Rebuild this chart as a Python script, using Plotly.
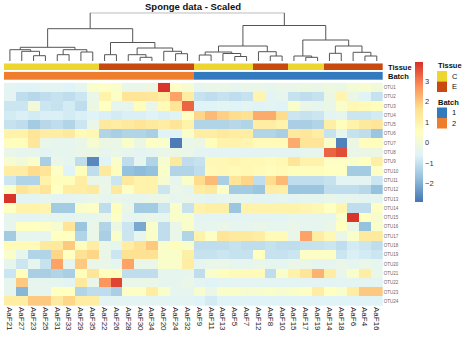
import plotly.graph_objects as go

W, H = 474, 338

samples = ["AaF21","AaF27","AaF23","AaF25","AaF31","AaF33","AaF29","AaF35",
           "AaF22","AaF26","AaF28","AaF30","AaF34","AaF20","AaF24","AaF32",
           "AaF9","AaF11","AaF13","AaF5","AaF7","AaF12","AaF8","AaF10",
           "AaF15","AaF17","AaF19","AaF14","AaF18","AaF6","AaF4","AaF16"]
otus = ["OTU%d" % i for i in range(1, 25)]

tissue = ["C"]*8 + ["E"]*8 + ["C"]*5 + ["E"]*3 + ["C"]*3 + ["E"]*5
batch = ["2"]*16 + ["1"]*16

values = [
 [-0.5,-0.6,-0.6,-0.5,-0.5,-0.6,-0.4,0.3,0.4,0.3,-0.3,-0.3,-0.2,3.9,0.4,0.2,-0.4,-0.3,-0.3,-0.4,-0.3,-0.3,-0.4,-0.3,-0.3,-0.2,-0.3,-0.1,-0.2,0.1,0.2,0.0],
 [-0.5,-1.1,-1.2,-1.1,-1.0,-1.1,-0.9,-0.3,1.0,0.4,1.5,1.5,1.4,1.2,2.5,1.2,-1.0,-1.1,-1.0,-1.1,-1.0,0.9,-0.5,-0.4,-1.0,-1.1,-1.0,-0.2,0.9,-0.3,-0.6,-1.0],
 [-0.9,-0.9,0.0,-0.9,-1.0,-0.8,-1.1,-0.2,0.5,-0.4,-0.4,0.6,-0.3,0.7,1.5,3.3,-0.6,-0.6,-0.5,-0.6,-0.5,-0.6,-0.5,-0.6,0.3,-0.3,-0.4,-0.3,0.3,0.8,0.7,0.6],
 [-0.8,-0.7,-0.8,-0.7,-0.7,-0.8,-0.7,-0.6,-0.7,-0.8,-0.7,-0.7,-0.6,-0.7,-0.6,0.5,1.8,2.2,1.9,1.7,1.6,2.4,2.4,1.7,-0.9,-1.0,-0.9,-0.5,-0.4,-0.9,-0.9,-0.8],
 [-1.0,-1.1,-1.5,-1.2,-1.1,-1.3,-0.9,-0.3,1.3,1.2,1.3,1.5,1.3,1.2,1.5,1.0,-1.3,-1.3,-1.3,-1.2,-1.3,1.2,1.2,1.0,-1.4,-1.4,-1.3,1.1,0.6,1.0,1.3,1.5],
 [1.0,1.0,1.5,1.2,1.2,1.3,0.7,0.8,-1.3,-1.4,-1.3,-1.3,-1.4,-0.6,-0.6,0.3,1.2,1.2,1.3,1.2,1.2,-1.3,-1.3,-1.4,1.3,1.4,1.2,-1.0,-0.4,-1.0,-1.1,-1.6],
 [0.6,0.6,1.4,-0.3,-0.4,-0.4,-0.3,0.2,-0.2,-0.3,0.3,-0.2,0.4,0.3,-2.8,-0.3,-0.2,0.6,1.0,1.0,0.9,0.7,0.7,0.7,2.4,1.5,1.5,0.3,-2.7,-0.2,0.6,0.6],
 [-0.3,-0.4,-0.4,-0.5,-0.4,-0.4,-0.3,-0.2,-0.4,-0.3,-0.4,-0.5,-0.4,-0.3,-0.2,-0.3,-0.5,-0.5,-0.5,-0.5,-0.5,-0.5,-0.5,-0.5,-0.5,-0.4,-0.4,3.3,3.6,-0.3,-0.2,-0.2],
 [0.2,0.0,0.3,-1.4,-0.3,-0.4,-1.1,-2.6,-0.6,0.3,-1.1,-0.4,-1.3,0.2,1.3,-1.1,-1.0,0.8,0.8,0.9,0.8,0.8,0.7,0.8,1.5,1.0,1.0,0.4,0.4,0.3,0.5,1.1],
 [1.2,1.2,1.7,1.5,0.4,-0.6,0.6,-1.1,1.3,0.6,-1.7,-1.8,-1.7,0.3,-1.3,-1.3,-1.1,0.7,0.8,0.7,0.8,0.7,0.6,0.7,0.6,0.6,0.6,0.5,0.5,-1.5,-1.5,0.4],
 [-0.9,-1.3,-1.3,1.0,0.6,0.6,1.2,-0.3,-0.3,-0.9,1.3,1.0,1.0,0.2,-0.4,0.3,1.7,2.2,-1.4,1.5,1.8,-1.1,1.7,2.2,-1.1,-1.1,-1.1,-1.0,-0.5,-0.5,-0.5,-0.9],
 [0.3,1.5,1.2,1.5,0.5,1.2,1.2,1.3,-0.3,1.3,0.4,1.0,1.0,-0.9,-0.3,-0.4,1.2,1.3,0.3,-1.5,-1.5,-1.6,1.2,1.1,-1.6,-1.6,-1.6,-1.1,-1.1,-1.1,-1.2,-1.7],
 [3.9,-0.5,-0.5,-0.4,-0.5,-0.5,-0.4,-0.3,-0.4,-0.3,-0.4,-0.4,-0.3,-0.3,-0.4,-0.3,-0.4,-0.5,-0.4,-0.4,-0.4,-0.5,-0.5,-0.4,-0.5,-0.4,-0.4,-0.3,-0.4,-0.4,-0.5,-0.4],
 [0.5,1.0,1.0,0.9,-1.5,-1.5,0.3,0.4,-1.1,0.6,-0.3,-1.5,-1.5,-0.9,0.3,-1.0,1.0,1.1,1.1,-1.6,1.0,1.0,1.0,1.0,1.0,0.9,0.8,0.5,0.9,-1.1,-1.1,0.4],
 [-0.4,-0.5,-0.5,-0.4,-0.4,-0.5,-0.4,-0.4,-0.3,0.4,-0.4,-0.4,-0.3,-0.4,0.3,0.3,-0.5,-0.5,-0.5,-0.5,-0.5,-0.5,-0.5,-0.5,-0.4,-0.4,-0.4,-0.4,0.3,3.9,0.5,0.2],
 [-0.4,0.5,0.5,0.4,0.2,1.5,-1.6,-0.3,-1.3,-0.2,-0.9,-2.1,0.3,-1.1,-0.3,0.3,-0.4,-0.4,-0.3,-0.4,-0.4,-0.3,-0.4,-0.4,-0.3,-0.4,-0.4,-0.3,0.5,-0.3,-1.7,0.3],
 [-1.5,-0.4,-0.4,-0.4,0.5,0.5,-1.3,-0.3,-1.4,0.3,-0.9,-0.4,0.3,-1.1,-0.3,-1.3,1.0,0.4,1.5,1.3,1.3,1.2,0.7,0.7,-0.3,2.5,1.2,0.8,-0.3,0.3,1.3,1.3],
 [0.7,0.7,0.7,1.3,1.3,2.0,0.6,1.2,-0.3,-0.4,1.2,1.6,2.0,0.3,0.6,0.3,-1.1,-1.1,-1.1,-1.0,-1.1,-1.1,-1.0,-1.1,-1.1,-1.0,-1.0,-0.9,-1.1,-0.8,-0.9,-1.1],
 [0.3,-0.4,-1.3,-1.3,1.8,0.5,1.6,1.8,-0.3,-0.9,1.6,1.6,1.6,0.3,0.3,1.1,-1.0,-1.0,-0.9,-1.0,-1.0,0.5,-1.0,-1.0,-0.9,0.4,0.4,0.4,-0.9,-0.7,-0.8,-0.9],
 [-0.4,-0.9,-0.4,-1.0,2.5,-0.4,2.0,-0.3,-0.3,-0.4,2.5,-0.3,-0.3,0.3,0.3,1.2,-0.4,-0.3,-0.3,-0.4,-0.4,-0.3,-0.4,-0.4,-0.3,-0.3,-0.4,-0.4,-0.3,-0.4,-0.3,-0.4],
 [-0.9,0.6,-1.4,-1.4,-1.3,-1.4,0.6,1.5,0.6,0.6,-1.1,-1.1,-1.1,-0.4,-0.4,-0.4,-1.1,0.3,0.6,0.7,0.7,0.7,-1.1,0.3,1.0,1.5,2.3,1.2,-0.3,0.3,1.2,-0.3],
 [-0.4,2.0,-0.4,-0.4,-0.4,-0.5,1.3,-0.3,2.7,3.7,-0.3,-0.3,-0.3,-0.4,-0.4,-0.3,-0.5,-0.6,-0.5,-0.5,-0.5,-0.5,-0.5,-0.5,-0.5,-0.5,-0.5,-0.5,-0.5,-0.5,-0.5,-0.5],
 [-0.4,-1.9,-0.4,-0.4,0.5,0.5,-1.3,-1.1,-1.1,-1.4,0.4,0.4,1.2,0.3,-0.4,-0.4,0.2,-0.3,0.3,0.3,0.2,0.2,0.3,0.2,0.3,0.4,1.2,0.5,0.3,1.2,2.0,2.0],
 [1.2,1.2,2.0,2.0,1.3,1.8,1.2,1.2,-0.5,-0.5,-0.5,-0.5,-0.5,-0.5,-0.5,-0.5,-0.6,-0.8,-0.6,-0.6,-0.6,-0.6,-0.6,-0.6,-0.6,-0.6,-0.6,-0.6,-0.6,-0.6,-0.6,-0.6],
]

# dendrogram merges: (child_a, child_b, height); ids < 32 are leaves, 32+k is merge k
merges = [
 (2,3,5.3),(1,32,9.7),(0,33,11.3),(4,5,6.3),(6,7,9.0),(35,36,11.3),(34,37,13.7),
 (8,9,6.3),(11,12,3.7),(10,40,6.3),(14,15,7.3),(13,42,9.7),(41,43,13.0),(39,44,18.5),
 (38,45,32.3),
 (16,17,6.0),(19,20,4.5),(18,48,7.5),(47,49,9.0),(22,23,5.0),(21,51,9.3),(50,52,15.0),
 (25,26,3.7),(24,54,5.0),(27,28,7.7),(30,31,5.0),(29,57,8.7),(56,58,15.0),(55,59,21.0),
 (53,60,35.5),(46,61,48.3),
]

tissue_colors = {"C": "#EDD630", "E": "#C94A0E"}
batch_colors = {"1": "#3279BE", "2": "#EE7D2D"}
palette = ["#4575B4", "#91BFDB", "#E0F3F8", "#FFFFBF", "#FEE090", "#FC8D59", "#D73027"]
zmin, zmax = -2.9, 3.95

def fy(py):
    return 1 - py / H

FONT = "Liberation Sans, Arial, sans-serif"
n = len(samples)
xs = list(range(n))

fig = go.Figure()

cs = [[i / (len(palette) - 1), c] for i, c in enumerate(palette)]
fig.add_trace(go.Heatmap(
    z=values, x=xs, y=list(range(len(otus))), colorscale=cs, zmin=zmin, zmax=zmax,
    xaxis="x", yaxis="y", hoverinfo="skip",
    colorbar=dict(x=415 / W, xanchor="left", y=fy(62), yanchor="top",
                  len=140, lenmode="pixels", thickness=8, thicknessmode="pixels",
                  outlinewidth=0, xpad=0, ypad=0, ticks="",
                  tickvals=[-2, -1, 0, 1, 2, 3],
                  tickfont=dict(size=7.5, color="#333", family=FONT))))

tcode = {"C": 0, "E": 1}
fig.add_trace(go.Heatmap(
    z=[[tcode[t] for t in tissue]], x=xs, y=[0], zmin=0, zmax=1,
    colorscale=[[0, tissue_colors["C"]], [0.5, tissue_colors["C"]], [0.5, tissue_colors["E"]], [1, tissue_colors["E"]]],
    showscale=False, xaxis="x", yaxis="y2", hoverinfo="skip"))
bcode = {"1": 0, "2": 1}
fig.add_trace(go.Heatmap(
    z=[[bcode[b] for b in batch]], x=xs, y=[0], zmin=0, zmax=1,
    colorscale=[[0, batch_colors["1"]], [0.5, batch_colors["1"]], [0.5, batch_colors["2"]], [1, batch_colors["2"]]],
    showscale=False, xaxis="x", yaxis="y3", hoverinfo="skip"))

# dendrogram
pos = {i: (float(i), 0.0) for i in range(n)}
lx, ly = [], []
for k, (a, b, h) in enumerate(merges):
    xa, ha = pos[a]
    xb, hb = pos[b]
    lx += [xa, xa, xb, xb, None]
    ly += [ha, h, h, hb, None]
    pos[n + k] = ((xa + xb) / 2, h)
fig.add_trace(go.Scatter(x=lx, y=ly, mode="lines", line=dict(color="#555555", width=1),
                         xaxis="x", yaxis="y4", hoverinfo="skip", showlegend=False, cliponaxis=False))

fig.update_layout(
    width=W, height=H, margin=dict(l=0, r=0, t=0, b=0),
    paper_bgcolor="white", plot_bgcolor="white", showlegend=False,
    font=dict(family=FONT),
    xaxis=dict(domain=[4 / W, 382.7 / W], range=[-0.5, n - 0.5], anchor="y",
               tickvals=xs, ticktext=samples, tickangle=90, ticks="",
               tickfont=dict(size=8, color="#222", family=FONT),
               showgrid=False, zeroline=False, showline=False),
    yaxis=dict(domain=[fy(306), fy(82.7)], range=[len(otus) - 0.5, -0.5], anchor="x", side="right",
               tickvals=list(range(len(otus))), ticktext=otus, ticks="",
               tickfont=dict(size=4.5, color="#666", family=FONT),
               showgrid=False, zeroline=False, showline=False),
    yaxis2=dict(domain=[fy(70), fy(63.3)], range=[-0.5, 0.5], anchor="x",
                showticklabels=False, showgrid=False, zeroline=False),
    yaxis3=dict(domain=[fy(80), fy(71.7)], range=[-0.5, 0.5], anchor="x",
                showticklabels=False, showgrid=False, zeroline=False),
    yaxis4=dict(domain=[fy(61), fy(12.7)], range=[0, 48.3], anchor="x",
                showticklabels=False, showgrid=False, zeroline=False),
)

ann = []
ann.append(dict(text="<b>Sponge data - Scaled</b>", x=193 / W, y=fy(6.5), xref="paper", yref="paper",
                showarrow=False, font=dict(size=9.5, color="#111", family=FONT), xanchor="center", yanchor="middle"))
ann.append(dict(text="<b>Tissue</b>", x=386 / W, y=fy(67), xref="paper", yref="paper", showarrow=False,
                font=dict(size=7.5, color="#111", family=FONT), xanchor="left", yanchor="middle"))
ann.append(dict(text="<b>Batch</b>", x=386 / W, y=fy(76.5), xref="paper", yref="paper", showarrow=False,
                font=dict(size=7.5, color="#111", family=FONT), xanchor="left", yanchor="middle"))

shapes = []
def legend_block(title, items, colors, ytop):
    ann.append(dict(text="<b>%s</b>" % title, x=436 / W, y=fy(ytop), xref="paper", yref="paper",
                    showarrow=False, font=dict(size=7.5, color="#111", family=FONT),
                    xanchor="left", yanchor="middle"))
    y0 = ytop + 5.5
    for it in items:
        shapes.append(dict(type="rect", xref="paper", yref="paper", x0=437 / W, x1=447 / W,
                           y0=fy(y0 + 10.5), y1=fy(y0), fillcolor=colors[it], line=dict(width=0)))
        ann.append(dict(text=it, x=449.5 / W, y=fy(y0 + 5.2), xref="paper", yref="paper", showarrow=False,
                        font=dict(size=7.5, color="#111", family=FONT), xanchor="left", yanchor="middle"))
        y0 += 10.5

legend_block("Tissue", ["C", "E"], tissue_colors, 65.5)
legend_block("Batch", ["1", "2"], batch_colors, 102)

fig.update_layout(annotations=ann, shapes=shapes)
fig.write_html("out.html")
